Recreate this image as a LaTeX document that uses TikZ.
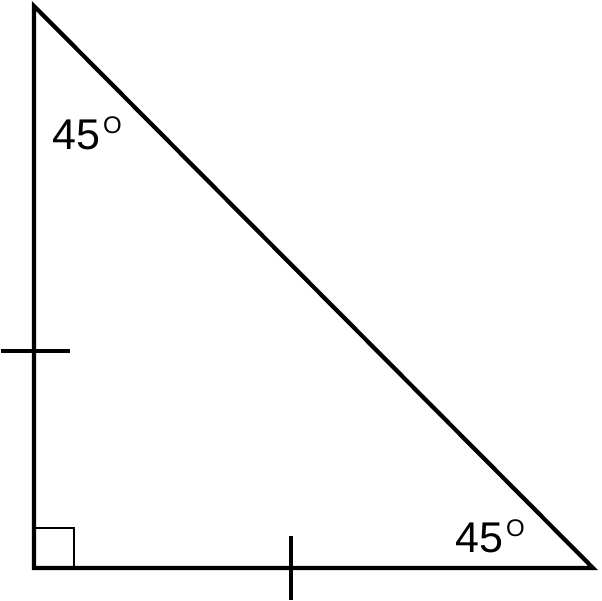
\documentclass[tikz,border=0pt]{standalone}
\usepackage{fontspec}
\setmainfont{Liberation Sans}
\newcommand{\degO}{\raisebox{16pt}{\fontsize{24}{24}\selectfont O}}
\begin{document}
\begin{tikzpicture}[x=1pt,y=-1pt,
  side/.style={line width=4.2pt,line join=miter},
  tick/.style={line width=4pt},
  angmark/.style={line width=1.6pt},
  anglabel/.style={inner sep=0pt,anchor=base west,font=\fontsize{43}{50}\selectfont}]
\useasboundingbox (0,0) rectangle (602,601);
\coordinate (A) at (34,6);
\coordinate (B) at (34,568);
\coordinate (C) at (593,568);
\draw[side] (A) -- (B) -- (C) -- cycle;

\draw[angmark] (34,528) -- (74,528) -- (74,568);

\coordinate (tl1) at (1,351);
\coordinate (tl2) at (70,351);
\draw[tick] (tl1) -- (tl2);
\coordinate (tb1) at (291,536);
\coordinate (tb2) at (291,600);
\draw[tick] (tb1) -- (tb2);

\node[anglabel] (angA) at (52,150) {45\hspace{3pt}\degO};
\node[anglabel] (angC) at (455,552) {45\hspace{3pt}\degO};
\end{tikzpicture}
\end{document}
